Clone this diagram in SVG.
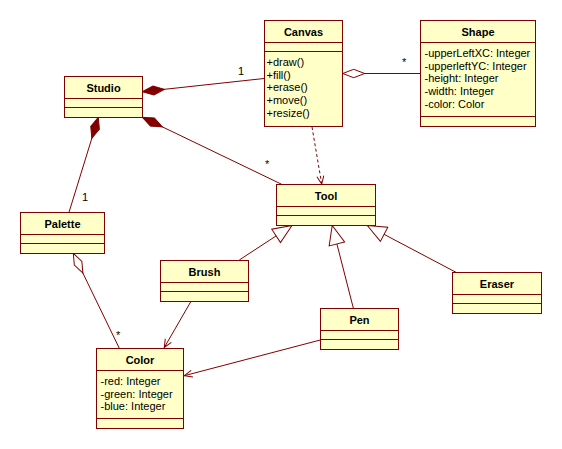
<svg xmlns="http://www.w3.org/2000/svg" width="562" height="449" viewBox="0 0 562 449">
<style>
.box{fill:#FFFFC8;stroke:#800000;stroke-width:1}
.div{stroke:#800000;stroke-width:1}
.t{font-family:"Liberation Sans",Arial,sans-serif;font-size:11px;font-weight:bold;fill:#000;text-anchor:middle}
.a{font-family:"Liberation Sans",Arial,sans-serif;font-size:11px;fill:#000}
.lbl{font-family:"Liberation Sans",Arial,sans-serif;font-size:11px;fill:#000}
.c{fill:none;stroke:#800000;stroke-width:1}
.dash{stroke-dasharray:3,2.5}
</style>
<defs>
<marker id="dF" markerUnits="userSpaceOnUse" markerWidth="24" markerHeight="12" viewBox="0 0 24 12" refX="23" refY="6" orient="auto">
<path d="M23,6 L12,1.5 L1,6 L12,10.5 Z" fill="#800000" stroke="#800000" stroke-width="1"/>
</marker>
<marker id="dH" markerUnits="userSpaceOnUse" markerWidth="24" markerHeight="12" viewBox="0 0 24 12" refX="23" refY="6" orient="auto">
<path d="M23,6 L12,1.8 L1,6 L12,10.2 Z" fill="#FFFFFF" stroke="#800000" stroke-width="1"/>
</marker>
<marker id="tri" markerUnits="userSpaceOnUse" markerWidth="22" markerHeight="18" viewBox="0 0 22 18" refX="21" refY="9" orient="auto">
<path d="M21,9 L2,1 L2,17 Z" fill="#FFFFFF" stroke="#800000" stroke-width="1"/>
</marker>
<marker id="arr" markerUnits="userSpaceOnUse" markerWidth="10" markerHeight="10" viewBox="0 0 10 10" refX="9" refY="5" orient="auto">
<path d="M1,1.5 L9,5 L1,8.5" fill="none" stroke="#800000" stroke-width="1" stroke-dasharray="none"/>
</marker>
</defs>

<g id="connectors">
<path class="c" d="M264,78.5 L142.5,91.7" marker-end="url(#dF)"/>
<path class="c" d="M281.7,184.3 L142.5,117.3" marker-end="url(#dF)"/>
<path class="c" d="M69,212.3 L98.3,117.3" marker-end="url(#dF)"/>
<path class="c" d="M420,73.5 L342.7,73.5" marker-end="url(#dH)"/>
<path class="c" d="M119.3,348.3 L73.3,253.3" marker-end="url(#dH)"/>
<path class="c dash" d="M312,127 L321.7,184" marker-end="url(#arr)"/>
<path class="c" d="M239.3,260 L292,225.5" marker-end="url(#tri)"/>
<path class="c" d="M353.3,308 L332.2,225.5" marker-end="url(#tri)"/>
<path class="c" d="M456,272.3 L367.3,225.5" marker-end="url(#tri)"/>
<path class="c" d="M191,301.3 L164.3,347.5" marker-end="url(#arr)"/>
<path class="c" d="M320.3,340 L184.3,375.7" marker-end="url(#arr)"/>
<text class="lbl" x="238" y="75">1</text>
<text class="lbl" x="265" y="168">*</text>
<text class="lbl" x="82" y="201">1</text>
<text class="lbl" x="402" y="66">*</text>
<text class="lbl" x="116" y="339">*</text>
</g>

<g id="Canvas">
<rect class="box" x="264.5" y="20.5" width="78" height="106"/>
<line class="div" x1="264.5" y1="42.5" x2="342.5" y2="42.5"/>
<line class="div" x1="264.5" y1="51.5" x2="342.5" y2="51.5"/>
<text class="t" x="303.5" y="35.5">Canvas</text>
<text class="a" x="266.5" y="66">+draw()</text>
<text class="a" x="266.5" y="78.7">+fill()</text>
<text class="a" x="266.5" y="91.4">+erase()</text>
<text class="a" x="266.5" y="104.1">+move()</text>
<text class="a" x="266.5" y="116.8">+resize()</text>
</g>

<g id="Shape">
<rect class="box" x="420.5" y="20.5" width="115" height="106"/>
<line class="div" x1="420.5" y1="42.5" x2="535.5" y2="42.5"/>
<line class="div" x1="420.5" y1="116.5" x2="535.5" y2="116.5"/>
<text class="t" x="478" y="35.5">Shape</text>
<text class="a" x="424.5" y="56.8">-upperLeftXC: Integer</text>
<text class="a" x="424.5" y="69.5">-upperleftYC: Integer</text>
<text class="a" x="424.5" y="82.2">-height: Integer</text>
<text class="a" x="424.5" y="94.9">-width: Integer</text>
<text class="a" x="424.5" y="107.6">-color: Color</text>
</g>

<g id="Studio">
<rect class="box" x="64.5" y="76.5" width="78" height="41"/>
<line class="div" x1="64.5" y1="98.5" x2="142.5" y2="98.5"/>
<line class="div" x1="64.5" y1="107.5" x2="142.5" y2="107.5"/>
<text class="t" x="103.5" y="91.5">Studio</text>
</g>

<g id="Palette">
<rect class="box" x="20.5" y="212.5" width="84" height="41"/>
<line class="div" x1="20.5" y1="234.5" x2="104.5" y2="234.5"/>
<line class="div" x1="20.5" y1="243.5" x2="104.5" y2="243.5"/>
<text class="t" x="62.5" y="227.5">Palette</text>
</g>

<g id="Tool">
<rect class="box" x="276.5" y="184.5" width="99" height="41"/>
<line class="div" x1="276.5" y1="206.5" x2="375.5" y2="206.5"/>
<line class="div" x1="276.5" y1="215.5" x2="375.5" y2="215.5"/>
<text class="t" x="326" y="199.5">Tool</text>
</g>

<g id="Brush">
<rect class="box" x="160.5" y="260.5" width="88" height="41"/>
<line class="div" x1="160.5" y1="282.5" x2="248.5" y2="282.5"/>
<line class="div" x1="160.5" y1="291.5" x2="248.5" y2="291.5"/>
<text class="t" x="204.5" y="275.5">Brush</text>
</g>

<g id="Eraser">
<rect class="box" x="452.5" y="272.5" width="89" height="41"/>
<line class="div" x1="452.5" y1="294.5" x2="541.5" y2="294.5"/>
<line class="div" x1="452.5" y1="303.5" x2="541.5" y2="303.5"/>
<text class="t" x="497" y="287.5">Eraser</text>
</g>

<g id="Pen">
<rect class="box" x="320.5" y="308.5" width="78" height="41"/>
<line class="div" x1="320.5" y1="330.5" x2="398.5" y2="330.5"/>
<line class="div" x1="320.5" y1="339.5" x2="398.5" y2="339.5"/>
<text class="t" x="359.5" y="323.5">Pen</text>
</g>

<g id="Color">
<rect class="box" x="96.5" y="348.5" width="87" height="80"/>
<line class="div" x1="96.5" y1="370.5" x2="183.5" y2="370.5"/>
<line class="div" x1="96.5" y1="418.5" x2="183.5" y2="418.5"/>
<text class="t" x="140" y="363.5">Color</text>
<text class="a" x="100.5" y="384.8">-red: Integer</text>
<text class="a" x="100.5" y="397.5">-green: Integer</text>
<text class="a" x="100.5" y="410.2">-blue: Integer</text>
</g>
</svg>
